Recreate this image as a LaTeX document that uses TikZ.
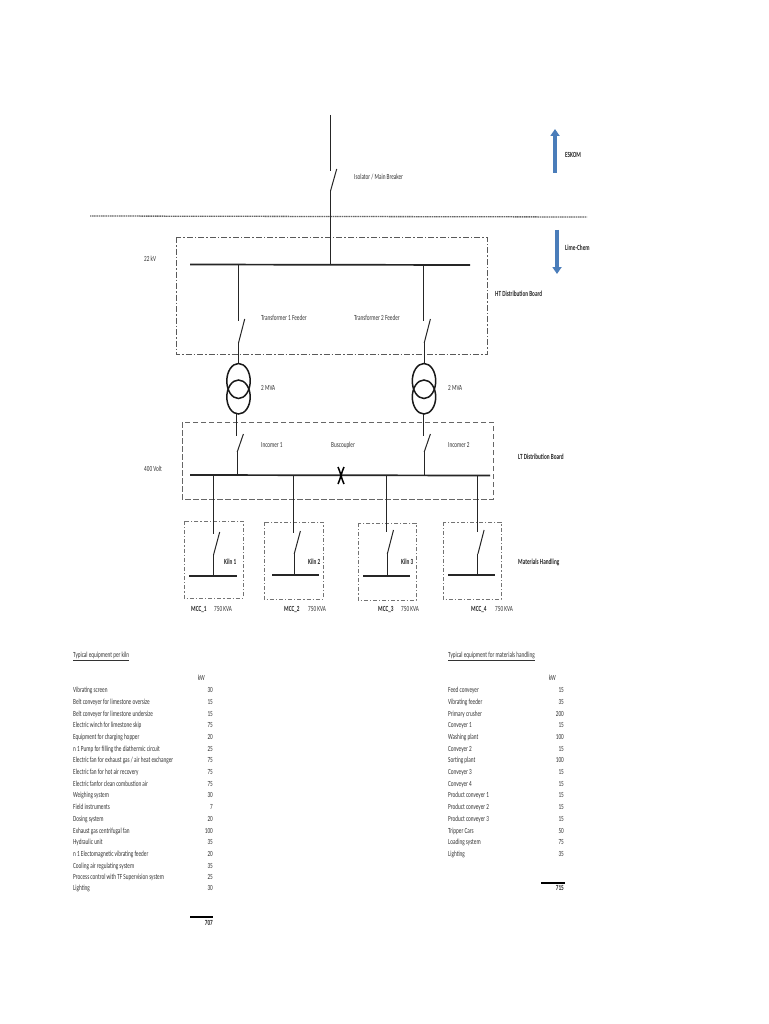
\documentclass[tikz,border=0pt]{standalone}
\usepackage{fontspec}
\setmainfont[FakeStretch=0.67]{Carlito}
\usetikzlibrary{arrows.meta}
\definecolor{txt}{HTML}{333333}
\definecolor{wire}{HTML}{262626}
\definecolor{bluearrow}{HTML}{4A7DBA}
\tikzset{
  lbl/.style={anchor=west,inner sep=0pt,yshift=-1.5pt,text=txt,font=\fontsize{7.8}{8}\selectfont,text height=5pt,text depth=1.5pt},
  blbl/.style={lbl,font=\fontsize{7.8}{8}\selectfont\bfseries,text=black!85},
  val/.style={lbl,anchor=east},
  wireline/.style={draw=wire,line width=1pt},
  busbar/.style={draw=wire,line width=1.7pt},
  blade/.style={draw=wire,line width=1pt},
  ddbox/.style={draw=black!65,line width=0.9pt,dash pattern=on 6pt off 2pt on 1.5pt off 2pt},
  mccbox/.style={draw=black!55,line width=0.9pt,dash pattern=on 4pt off 2pt on 1.2pt off 2pt},
  dbox/.style={draw=black!60,line width=1pt,dash pattern=on 5.5pt off 2.5pt},
  xfmr/.style={draw=black!90,line width=1.5pt},
  flow/.style={-{Triangle[width=9pt,length=7pt]},draw=bluearrow,line width=4pt}
}
% feeder: name, x, top y, blade gap y, pivot y, bottom y
\newcommand{\feeder}[6]{%
  \coordinate (#1top) at (#2,#3);
  \coordinate (#1open) at (#2,#4);
  \coordinate (#1piv) at (#2+0.5,#5);
  \coordinate (#1tip) at (#2+6.7,#4-2);
  \coordinate (#1bot) at (#2+0.5,#6);
  \draw[wireline] (#1top) -- (#1open);
  \draw[blade] (#1piv) -- (#1tip);
  \draw[wireline] (#1piv) -- (#1bot);
}
\newcommand{\rowL}[4]{%
  \node[lbl] (#1t) at (73,#2) {#3};
  \node[val] (#1v) at (213,#2) {#4};
}
\newcommand{\rowR}[4]{%
  \node[lbl] (#1t) at (448,#2) {#3};
  \node[val] (#1v) at (564,#2) {#4};
}
\begin{document}
\begin{tikzpicture}[x=1pt,y=-1pt]
\useasboundingbox (0,0) rectangle (768,1024);
\fill[white] (0,0) rectangle (768,1024);

% utility boundary
\coordinate (bl) at (90,216);
\coordinate (br) at (587,217);
\draw[black!60,line width=1.3pt,dash pattern=on 1.2pt off 0.6pt] (bl) -- (br);

% boxes
\draw[ddbox] (176,237) rectangle (487,354);
\draw[dbox] (182,422) rectangle (493,499);
\draw[mccbox] (184,521) rectangle (243,598);
\draw[mccbox] (264,522) rectangle (323,599);
\draw[mccbox] (358,523) rectangle (416,600);
\draw[mccbox] (443,522) rectangle (501,599);

% incoming
\feeder{main}{330}{115}{171}{191}{265}

% busbars
\coordinate (htl) at (190,264.5);
\coordinate (htr) at (470,265);
\draw[busbar] (htl) -- (htr);
\coordinate (ltl) at (190,475);
\coordinate (ltr) at (490,475.5);
\draw[busbar] (ltl) -- (ltr);

% transformer feeders
\feeder{ta}{238}{264.5}{321}{343}{363}
\feeder{tb}{423.7}{265}{321}{343}{363}
\draw[xfmr] (238.5,381) ellipse [x radius=11.7,y radius=17.5];
\draw[xfmr] (238.5,397) ellipse [x radius=11.7,y radius=17];
\draw[xfmr] (424,381) ellipse [x radius=11.7,y radius=17.5];
\draw[xfmr] (424,397) ellipse [x radius=11.7,y radius=17];

% incomers
\feeder{ia}{236.7}{414}{436}{452}{475}
\feeder{ib}{423.7}{414}{436}{452}{475}

% MCC feeders
\feeder{ma}{213}{475}{534}{555}{576}
\feeder{mb}{293.7}{475}{533}{554}{575}
\feeder{mc}{386.8}{475}{532}{554}{576}
\feeder{md}{477.4}{475}{532}{554}{575}
\coordinate (ma1) at (189,576); \coordinate (ma2) at (237,576);
\coordinate (mb1) at (272,575); \coordinate (mb2) at (319,575);
\coordinate (mc1) at (363,576); \coordinate (mc2) at (410,576);
\coordinate (md1) at (448,575); \coordinate (md2) at (495,575);
\draw[busbar] (ma1) -- (ma2);
\draw[busbar] (mb1) -- (mb2);
\draw[busbar] (mc1) -- (mc2);
\draw[busbar] (md1) -- (md2);

% bus coupler
\coordinate (xa) at (338,467); \coordinate (xb) at (344,484);
\coordinate (xc) at (344,467); \coordinate (xd) at (338,484);
\draw[black,line width=1.5pt] (xa) .. controls (341,474) and (341,477) .. (xb);
\draw[black,line width=1.5pt] (xc) .. controls (341,474) and (341,477) .. (xd);

% flow arrows
\coordinate (ea) at (555,173); \coordinate (eb) at (555,129);
\coordinate (la) at (557,230); \coordinate (lb) at (557,274);
\draw[flow] (ea) -- (eb);
\draw[flow] (la) -- (lb);

% labels
\node[blbl] (eskom) at (565,154) {ESKOM};
\node[blbl] (lime) at (565,247) {Lime-Chem};
\node[lbl] (iso) at (354,176) {Isolator / Main Breaker};
\node[lbl] (kv) at (144,258) {22 kV};
\node[blbl] (ht) at (495,293) {HT Distribution Board};
\node[lbl] (tf1) at (261,317) {Transformer 1 Feeder};
\node[lbl] (tf2) at (354,317) {Transformer 2 Feeder};
\node[lbl] (mva1) at (261,387) {2 MVA};
\node[lbl] (mva2) at (448,387) {2 MVA};
\node[lbl] (in1) at (261,444) {Incomer 1};
\node[lbl] (bc) at (331,444) {Buscoupler};
\node[lbl] (in2) at (448,444) {Incomer 2};
\node[lbl] (volt) at (144,468) {400 Volt};
\node[blbl] (lt) at (518,456) {LT Distribution Board};
\node[blbl] (k1) at (224,561) {Kiln 1};
\node[blbl] (k2) at (308,561) {Kiln 2};
\node[blbl] (k3) at (401,561) {Kiln 3};
\node[blbl] (mh) at (518,561) {Materials Handling};
\node[blbl] (m1) at (191,608) {MCC\_1};
\node[lbl] (v1) at (214,608) {750 KVA};
\node[blbl] (m2) at (284,608) {MCC\_2};
\node[lbl] (v2) at (308,608) {750 KVA};
\node[blbl] (m3) at (378,608) {MCC\_3};
\node[lbl] (v3) at (401,608) {750 KVA};
\node[blbl] (m4) at (471,608) {MCC\_4};
\node[lbl] (v4) at (495,608) {750 KVA};

% left table
\node[lbl] (lh) at (73,654) {\underline{Typical equipment per kiln}};
\node[val] (lk) at (205,677) {kW};
\rowL{a}{689.5}{Vibrating screen}{30}
\rowL{b}{701}{Belt conveyer for limestone oversize}{15}
\rowL{c}{713}{Belt conveyer for limestone undersize}{15}
\rowL{d}{724}{Electric winch for limestone skip}{75}
\rowL{e}{736}{Equipment for charging hopper}{20}
\rowL{f}{748}{n 1 Pump for filling the diathermic circuit}{25}
\rowL{g}{759}{Electric fan for exhaust gas / air heat exchanger}{75}
\rowL{h}{771}{Electric fan for hot air recovery}{75}
\rowL{i}{783}{Electric fanfor clean combustion air}{75}
\rowL{j}{794}{Weighing system}{30}
\rowL{k}{806}{Field instruments}{7}
\rowL{l}{818}{Dosing system}{20}
\rowL{m}{830}{Exhaust gas centrifugal fan}{100}
\rowL{n}{841}{Hydraulic unit}{35}
\rowL{o}{853}{n 1 Electomagnetic vibrating feeder}{20}
\rowL{p}{865}{Cooling air regulating system}{35}
\rowL{q}{876}{Process control with TF Supervision system}{25}
\rowL{r}{887}{Lighting}{30}
\coordinate (lsa) at (190,917); \coordinate (lsb) at (213,917);
\draw[black,line width=1.2pt] (lsa) -- (lsb);
\node[blbl,anchor=east] (lt707) at (213,922) {707};

% right table
\node[lbl] (rh) at (448,654) {\underline{Typical equipment for materials handling}};
\node[val] (rk) at (556,677) {kW};
\rowR{ra}{689.5}{Feed conveyer}{15}
\rowR{rb}{701}{Vibrating feeder}{35}
\rowR{rc}{713}{Primary crusher}{200}
\rowR{rd}{724}{Conveyer 1}{15}
\rowR{re}{736}{Washing plant}{100}
\rowR{rf}{748}{Conveyer 2}{15}
\rowR{rg}{759}{Sorting plant}{100}
\rowR{rh2}{771}{Conveyer 3}{15}
\rowR{ri}{783}{Conveyer 4}{15}
\rowR{rj}{794}{Product conveyer 1}{15}
\rowR{rk2}{806}{Product conveyer 2}{15}
\rowR{rl}{818}{Product conveyer 3}{15}
\rowR{rm}{830}{Tripper Cars}{50}
\rowR{rn}{841}{Loading system}{75}
\rowR{ro}{853}{Lighting}{35}
\coordinate (rsa) at (541,883); \coordinate (rsb) at (565,883);
\draw[black,line width=1.2pt] (rsa) -- (rsb);
\node[blbl,anchor=east] (rt715) at (564,887.5) {715};
\end{tikzpicture}
\end{document}
